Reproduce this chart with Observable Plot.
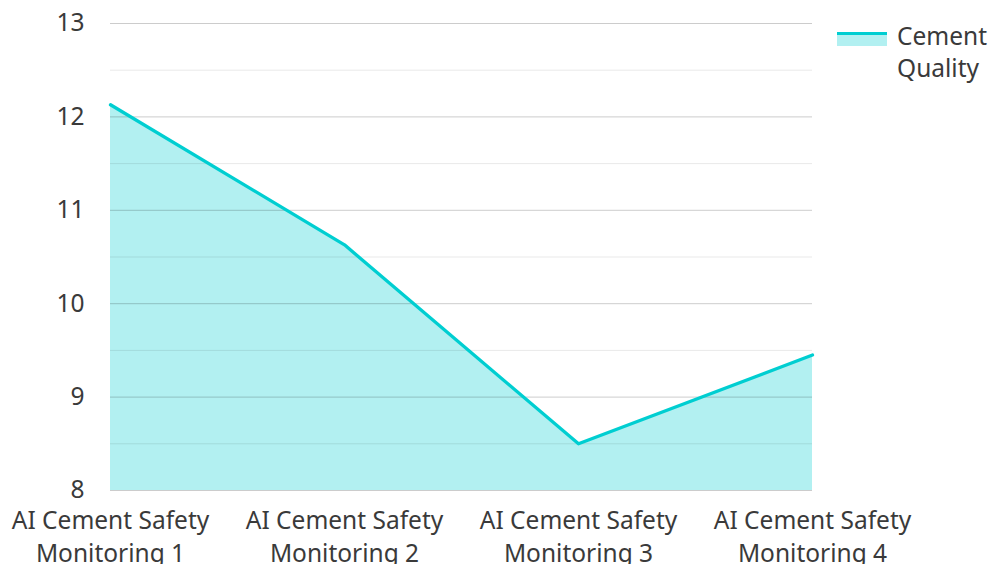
<!DOCTYPE html>
<html>
<head>
<meta charset="utf-8">
<script src="https://cdn.jsdelivr.net/npm/d3@7"></script>
<script src="https://cdn.jsdelivr.net/npm/@observablehq/plot@0.6"></script>
<style>
  html, body { margin: 0; padding: 0; background: #fff; }
  #wrap { position: relative; width: 991px; height: 564px; font-family: "Noto Sans", sans-serif; overflow: hidden; }
  #legend { position: absolute; left: 837px; top: 20px; display: flex; align-items: flex-start; color: #3a3a3a; font-size: 24.5px; line-height: 32px; }
  #legend .sw { width: 50px; height: 14px; margin-top: 12px; margin-right: 10px; background: rgba(0,206,209,0.3); border-top: 3px solid #00CED1; box-sizing: border-box; }
</style>
</head>
<body>
<div id="wrap"></div>
<script>
const categories = ["AI Cement Safety Monitoring 1", "AI Cement Safety Monitoring 2", "AI Cement Safety Monitoring 3", "AI Cement Safety Monitoring 4"];
const values = [12.13, 10.63, 8.5, 9.45];
const seriesName = "Cement Quality";
const yTicks = [8, 9, 10, 11, 12, 13];
const yMinor = [8.5, 9.5, 10.5, 11.5, 12.5];

const data = categories.map((c, i) => ({cat: c, v: values[i]}));

const chart = Plot.plot({
  width: 991, height: 564,
  marginLeft: 110, marginRight: 179, marginTop: 23, marginBottom: 74,
  style: {fontSize: "24.5px", fontFamily: "Noto Sans, sans-serif", color: "#3a3a3a", background: "transparent", overflow: "visible"},
  x: {type: "point", domain: categories, padding: 0},
  y: {domain: [8, 13]},
  marks: [
    Plot.areaY(data, {x: "cat", y1: 8, y2: "v", fill: "#00CED1", fillOpacity: 0.3}),
    Plot.ruleY(yMinor, {stroke: "#000", strokeOpacity: 0.09}),
    Plot.ruleY(yTicks, {stroke: "#000", strokeOpacity: 0.2}),
    Plot.line(data, {x: "cat", y: "v", stroke: "#00CED1", strokeWidth: 3.3}),
    Plot.axisY({ticks: yTicks, tickSize: 0, tickPadding: 26, label: null, fill: "#3a3a3a", fontSize: 24.5, tickFormat: d => String(d)}),
    Plot.axisX({tickSize: 0, tickPadding: 15, label: null, lineHeight: 1.34, fill: "#3a3a3a", fontSize: 24.5,
      tickFormat: d => d.replace(" Monitoring", "\nMonitoring")})
  ]
});
document.getElementById("wrap").appendChild(chart);

const legend = document.createElement("div");
legend.id = "legend";
legend.innerHTML = `<div class="sw"></div><div>${seriesName.replace(" ", "<br>")}</div>`;
document.getElementById("wrap").appendChild(legend);
</script>
</body>
</html>
